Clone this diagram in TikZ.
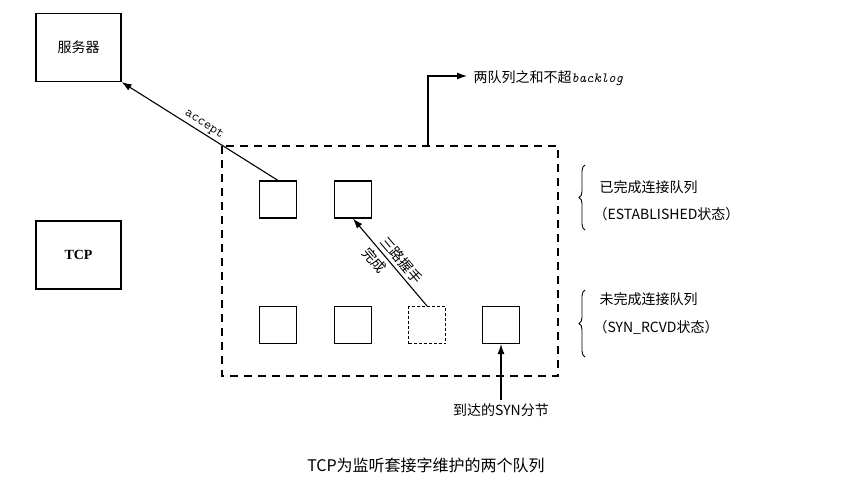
\documentclass[tikz,border=0pt]{standalone}
\usepackage{fontspec}
\setmainfont{Liberation Serif}
\newfontfamily\cjk{Noto Sans CJK SC}
\usetikzlibrary{arrows.meta,decorations.pathreplacing}
\begin{document}
\begin{tikzpicture}[x=1pt,y=-1pt,
  sq/.style={draw,line width=1.1pt,minimum size=37pt,inner sep=0pt},
  bigbox/.style={draw,line width=1.1pt,minimum width=85pt,minimum height=68pt,font=\cjk\fontsize{14}{16}\selectfont},
  lbl/.style={font=\cjk\fontsize{14}{16}\selectfont},
  arr/.style={line width=1.1pt,-{Latex[length=10pt,width=7pt]}}]
\fill[white] (0,0) rectangle (853,491);
\useasboundingbox (0,0) rectangle (853,491);
\node[bigbox] (srv) at (78.5,47.5) {服务器};
\node[bigbox,font=\rmfamily\fontsize{14}{16}\selectfont\bfseries] (tcp) at (78.5,255) {TCP};
\draw[line width=1.1pt,dash pattern=on 8pt off 6pt] (222,146) rectangle (558,376);
\coordinate (dtop) at (428,146);
\node[sq] (a1) at (278,199.5) {};
\node[sq] (a2) at (353,199.5) {};
\node[sq] (b1) at (278,325) {};
\node[sq] (b2) at (353,325) {};
\node[sq,densely dashed] (b3) at (427,325) {};
\node[sq] (b4) at (501,325) {};
\draw[arr] (a1.north) -- node[sloped,above,inner sep=2pt,font=\ttfamily\fontsize{14}{16}\selectfont]{accept} (srv.south east);
\draw[arr] (b3.north) -- node[sloped,above,lbl,pos=0.45]{三路握手} node[sloped,below,lbl,pos=0.6]{完成} (a2.south);
\coordinate (bk) at (467,76);
\draw[arr] (dtop) |- (bk);
\node[lbl,anchor=west] (bkt) at (470,78) {两队列之和不超\textit{\ttfamily backlog}};
\draw[decorate,decoration={brace,amplitude=6pt},line width=0.9pt] (585,230) -- (585,165);
\draw[decorate,decoration={brace,amplitude=6pt},line width=0.9pt] (585,357) -- (585,290);
\node[lbl,anchor=west] (t1) at (596,187) {已完成连接队列};
\node[lbl,anchor=west] (t2) at (590,214) {（ESTABLISHED状态）};
\node[lbl,anchor=west] (t3) at (596,299) {未完成连接队列};
\node[lbl,anchor=west] (t4) at (590,327) {（SYN\_RCVD状态）};
\node[lbl] (syn) at (501,410) {到达的SYN分节};
\draw[arr] (syn.north) -- (b4.south);
\node[lbl,font=\cjk\fontsize{16}{18}\selectfont] (cap) at (426,465) {TCP为监听套接字维护的两个队列};
\end{tikzpicture}
\end{document}
